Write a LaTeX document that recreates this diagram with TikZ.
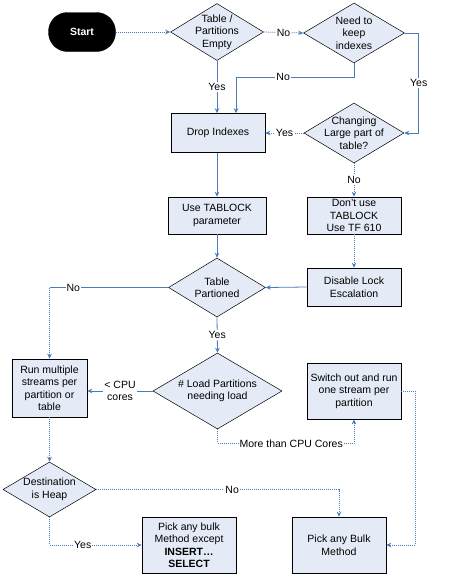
\documentclass[tikz,border=0pt]{standalone}
\usepackage{fontspec}
\setmainfont{Liberation Sans}
\usetikzlibrary{shapes.geometric,arrows.meta}
\definecolor{boxfill}{RGB}{229,235,246}
\definecolor{flowblue}{RGB}{74,124,187}
\tikzset{
  every node/.style={font=\fontsize{10.5}{12.5}\selectfont},
  procbox/.style 2 args={draw=black, line width=0.6pt, fill=boxfill, minimum width=#1, minimum height=#2, inner sep=1pt, align=center},
  decision/.style 2 args={diamond, draw=black, line width=0.5pt, fill=boxfill, minimum width=#1, minimum height=#2, inner sep=0pt},
  dlabel/.style={align=center},
  flow/.style={draw=flowblue, line width=0.8pt, -{Stealth[length=5pt,width=4.5pt]}},
  dflow/.style={flow, dash pattern=on 1pt off 1pt},
  onflow/.style={fill=white, inner sep=1pt, align=center},
}
\begin{document}
\begin{tikzpicture}[x=1pt,y=1pt,yscale=-1,xscale=1]
\useasboundingbox (0,0) rectangle (461,576);

%Shape: Start
\node [draw=black, fill=black, rounded corners=19pt, minimum width=67pt, minimum height=39pt, text=white, font=\fontsize{10.5}{12.5}\selectfont\bfseries] (start) at (82,32) {Start};

%Shape: Diamonds
\node [decision={93pt}{57pt}, label={[dlabel]center:Table /\\Partitions\\Empty}] (empty) at (217,32) {};
\node [decision={101pt}{60pt}, label={[dlabel]center:Need to\\keep\\indexes}] (keep) at (354,33) {};
\node [decision={100pt}{60pt}, label={[dlabel]center:Changing\\Large part of\\table?}] (change) at (354,133) {};
\node [decision={97pt}{59pt}, label={[dlabel]center:Table\\Partioned}] (part) at (217,287.5) {};
\node [decision={129pt}{76pt}, label={[dlabel]center:\# Load Partitions\\needing load}] (load) at (217.5,391) {};
\node [decision={93pt}{55pt}, label={[dlabel]center:Destination\\is Heap}] (dest) at (49.5,489.5) {};

%Shape: Boxes
\node [procbox={94pt}{39pt}] (drop) at (218,133) {Drop Indexes};
\node [procbox={98pt}{37pt}] (usetab) at (217,215.5) {Use TABLOCK\\parameter};
\node [procbox={94pt}{37pt}] (dont) at (354,215.5) {Don't use\\TABLOCK\\Use TF 610};
\node [procbox={94pt}{38pt}] (disable) at (354,287) {Disable Lock\\Escalation};
\node [procbox={75pt}{58pt}] (run) at (49.5,388) {Run multiple\\streams per\\partition or\\table};
\node [procbox={94pt}{56pt}] (switch) at (354,391) {Switch out and run\\one stream per\\partition};
\node [procbox={94pt}{56pt}] (pickex) at (189,545) {Pick any bulk\\Method except\\\textbf{INSERT\dots}\\\textbf{SELECT}};
\node [procbox={94pt}{56pt}] (bulk) at (339,545) {Pick any Bulk\\Method};

%Connectors
\draw [dflow] (start.east) -- (empty.west);
\draw [dflow] (empty.east) -- node[onflow]{No} (keep.west);
\draw [flow] (empty.south) -- node[onflow]{Yes} (empty.south |- drop.north);
\draw [flow] (keep.south) -- ++(0,14) -| node[onflow,pos=0.3]{No} ([xshift=18pt]drop.north);
\draw [flow] (keep.east) -- ++(14,0) |- node[onflow,pos=0.25]{Yes} (change.east);
\draw [dflow] (change.west) -- node[onflow]{Yes} (drop.east);
\draw [dflow] (change.south) -- node[onflow]{No} (dont.north);
\draw [flow] (drop.south -| usetab.north) -- (usetab.north);
\draw [flow] (usetab.south) -- (part.north);
\draw [dflow] (dont.south) -- (disable.north);
\draw [flow] (disable.west) -- (part.east);

\coordinate (nocorner) at (part.west -| run.north);
\draw [flow, -] (part.west) -- node[onflow,pos=0.8]{No} (nocorner);
\draw [dflow] (nocorner) -- (run.north);

\draw [flow] (part.south) -- node[onflow]{Yes} (load.north);
\draw [flow] (load.west) -- node[onflow]{< CPU\\cores} (run.east |- load.west);
\draw [dflow] (load.south) -- ++(0,14) -| node[onflow,pos=0.27]{More than CPU Cores} (switch.south);
\draw [dflow] (switch.east) -- ++(14,0) |- (bulk.east);
\draw [dflow] (run.south) -- (dest.north);
\draw [dflow] (dest.east) -| node[onflow,pos=0.28]{No} (bulk.north);
\draw [dflow] (dest.south) |- node[onflow,pos=0.68]{Yes} (pickex.west);

\end{tikzpicture}
\end{document}
